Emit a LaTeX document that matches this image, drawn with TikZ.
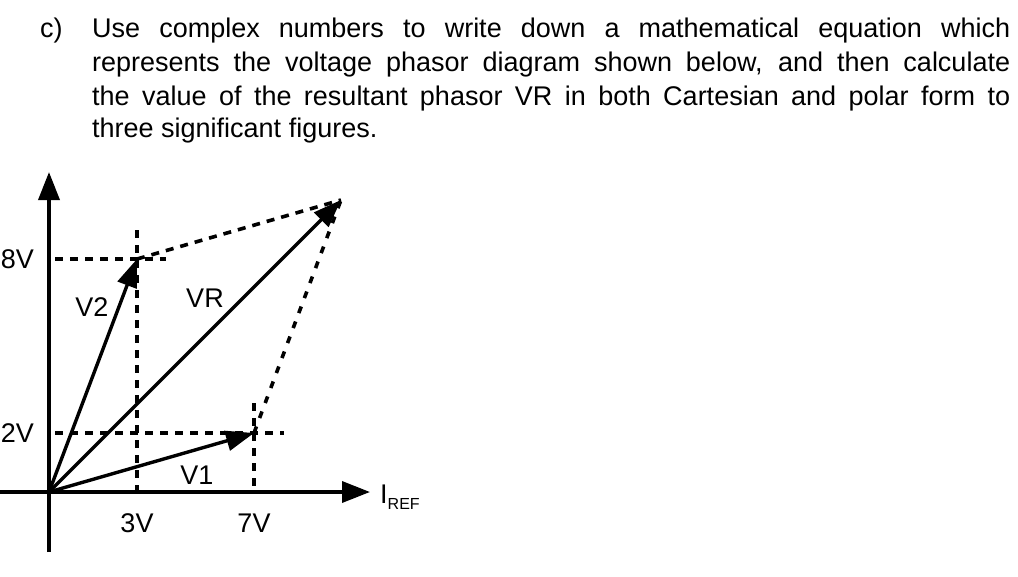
\documentclass[tikz,border=0pt]{standalone}
\usepackage{fontspec}
\setmainfont{Liberation Sans}
\usetikzlibrary{arrows.meta}
\begin{document}
\begin{tikzpicture}[x=1pt,y=-1pt,
  txt/.style={inner sep=0pt, anchor=base west, font=\fontsize{27}{30}\selectfont},
  lbl/.style={inner sep=0pt, font=\fontsize{27}{30}\selectfont},
  axisline/.style={line width=3.6pt, -{Triangle[length=28pt,width=21pt]}},
  vec/.style={line width=3.4pt, -{Triangle[length=28pt,width=20pt]}},
  dsh/.style={line width=3.6pt, dash pattern=on 8pt off 7pt},
  dotl/.style={line width=3.6pt, dash pattern=on 7pt off 9pt}]
\useasboundingbox (0,0) rectangle (1018,576);
% question text
\node[txt] (c) at (40,37) {c)};
\node[txt] (l1) at (92,37) {\makebox[918pt][s]{Use complex numbers to write down a mathematical equation which}};
\node[txt] (l2) at (92,71) {\makebox[918pt][s]{represents the voltage phasor diagram shown below, and then calculate}};
\node[txt] (l3) at (92,105) {\makebox[918pt][s]{the value of the resultant phasor VR in both Cartesian and polar form to}};
\node[txt] (l4) at (92,137) {three significant figures.};
% points
\coordinate (O) at (49,492);
\coordinate (V1) at (254,433);
\coordinate (V2) at (137,259);
\coordinate (VR) at (341,200);
\coordinate (xs) at (0,492);
\coordinate (xe) at (370,492);
\coordinate (ys) at (49,552);
\coordinate (ye) at (49,172);
\coordinate (h8a) at (55,259);
\coordinate (h8b) at (166,259);
\coordinate (h2a) at (55,433);
\coordinate (h2b) at (284,433);
\coordinate (v3a) at (137,230);
\coordinate (v3b) at (137,490);
\coordinate (v7a) at (254,403);
\coordinate (v7b) at (254,490);
% dashed guides
\draw[dsh] (h8a) -- (h8b);
\draw[dsh] (h2a) -- (h2b);
\draw[dsh] (v3a) -- (v3b);
\draw[dsh] (v7a) -- (v7b);
\draw[dsh] (V2) -- (VR);
\draw[dotl] (V1) -- (VR);
% axes
\draw[axisline] (xs) -- (xe);
\draw[axisline] (ys) -- (ye);
% phasors
\draw[vec] (O) -- (V1);
\draw[vec] (O) -- (V2);
\draw[vec] (O) -- (VR);
% labels
\node[lbl, anchor=east] (l8) at (34,259) {8V};
\node[lbl, anchor=east] (l2v) at (34,433) {2V};
\node[lbl] (l3v) at (137,523) {3V};
\node[lbl] (l7v) at (254,523) {7V};
\node[lbl] (lv2) at (92,307) {V2};
\node[lbl] (lvr) at (205,298) {VR};
\node[lbl] (lv1) at (197,475) {V1};
\node[lbl, anchor=base west] (iref) at (380,503) {I\raisebox{-6pt}{\fontsize{16}{16}\selectfont REF}};
\end{tikzpicture}
\end{document}
